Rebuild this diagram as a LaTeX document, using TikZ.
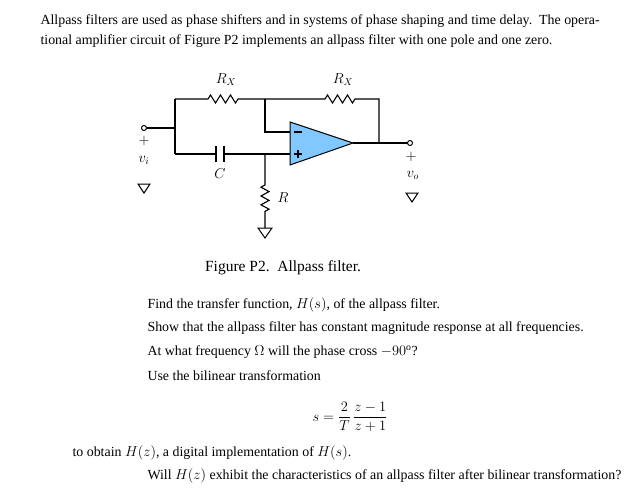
\documentclass[tikz,border=0pt]{standalone}
\usepackage{fontspec}
\setmainfont{Liberation Serif}
\definecolor{opblue}{RGB}{128,200,255}
\begin{document}
\begin{tikzpicture}[x=1pt,y=-1pt,line width=1.1pt,
  txt/.style={anchor=west,inner sep=0pt,font=\fontsize{13.9}{16}\selectfont},
  lbl/.style={inner sep=0pt,font=\fontsize{14}{16}\selectfont},
  term/.style={circle,draw,line width=1pt,fill=white,inner sep=0pt,minimum size=5pt},
  gnd/.style={line width=1pt}]
\useasboundingbox (0,0) rectangle (640,500);
\fill[white] (0,0) rectangle (640,500);
% text
\node[txt] (t1) at (40,21) {Allpass filters are used as phase shifters and in systems of phase shaping and time delay.\ \ The opera-};
\node[txt] (t2) at (40,41) {tional amplifier circuit of Figure P2 implements an allpass filter with one pole and one zero.};
\node[lbl,font=\fontsize{15.5}{18}\selectfont] (cap) at (283,268) {Figure P2.\ \ Allpass filter.};
\node[txt] (q1) at (147,305) {Find the transfer function, $H(s)$, of the allpass filter.};
\node[txt] (q2) at (147,328) {Show that the allpass filter has constant magnitude response at all frequencies.};
\node[txt] (q3) at (147,352) {At what frequency $\Omega$ will the phase cross $-90^{\mathrm o}$?};
\node[txt] (q4) at (147,376) {Use the bilinear transformation};
\node[lbl] (eq) at (350,417) {$\displaystyle s=\frac{2}{T}\,\frac{z-1}{z+1}$};
\node[txt] (q5) at (72,453) {to obtain $H(z)$, a digital implementation of $H(s)$.};
\node[txt] (q6) at (147,476) {Will $H(z)$ exhibit the characteristics of an allpass filter after bilinear transformation?};
% circuit coordinates
\coordinate (vin) at (144,128);
\coordinate (L) at (175,128);
\coordinate (jn) at (265,99);
\coordinate (jp) at (265,154);
\coordinate (out) at (379,143);
\coordinate (vout) at (410,143);
% opamp
\draw[fill=opblue,line width=1pt] (290,122) -- (353,143) -- (290,165) -- cycle;
\draw[line width=1.6pt] (294,132) -- (302,132);
\draw[line width=1.3pt] (294,154) -- (302,154) (298,150) -- (298,158);
% wires
\draw (vin) -- (L);
\draw (175,99) -- (175,154);
\draw (175,99) -- (208,99) -- ++(2.5,-4) -- ++(5,8) -- ++(5,-8) -- ++(5,8) -- ++(5,-8) -- ++(5,8) -- ++(2.5,-4) -- (325,99)
  -- ++(2.5,-4) -- ++(5,8) -- ++(5,-8) -- ++(5,8) -- ++(5,-8) -- ++(5,8) -- ++(2.5,-4) -- (379,99) -- (out);
\draw (jn) -- (265,132) -- (290,132);
\draw (175,154) -- (216,154);
\draw (216,146) -- (216,162);
\draw (224,146) -- (224,162);
\draw (224,154) -- (290,154);
\draw (jp) -- (265,185) -- ++(-4,2.2) -- ++(8,4.4) -- ++(-8,4.4) -- ++(8,4.4) -- ++(-8,4.4) -- ++(8,4.4) -- ++(-4,2.2) -- (265,228);
\draw (353,143) -- (vout);
\node[term] (ti) at (vin) {};
\node[term] (to) at (vout) {};
% grounds
\draw[gnd] (258,228) -- (272,228) -- (265,238) -- cycle;
\draw[gnd] (138,184) -- (150,184) -- (144,193) -- cycle;
\draw[gnd] (406,193) -- (418,193) -- (412,202) -- cycle;
% labels
\node[lbl] (lrx1) at (226,80) {$R_X$};
\node[lbl] (lrx2) at (343,80) {$R_X$};
\node[lbl] (lc) at (220,174) {$C$};
\node[lbl] (lr) at (283,198) {$R$};
\node[lbl] (pi) at (144,141) {$+$};
\node[lbl] (vi) at (144,160) {$v_i$};
\node[lbl] (po) at (411,157) {$+$};
\node[lbl] (vo) at (413,175) {$v_o$};
\end{tikzpicture}
\end{document}
